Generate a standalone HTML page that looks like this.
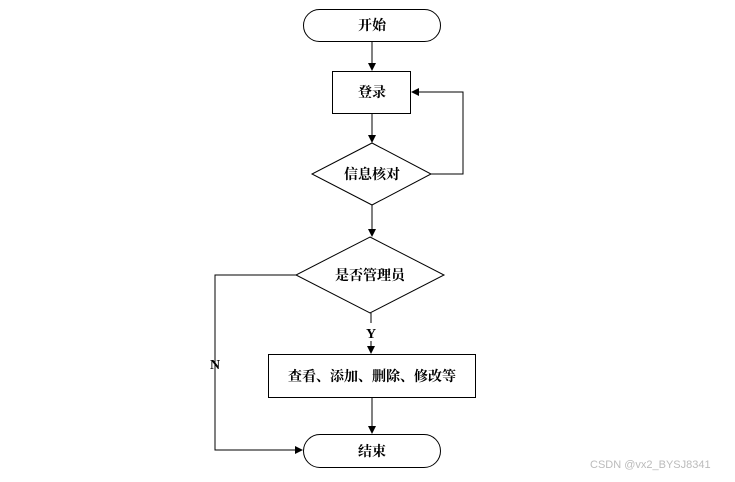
<!DOCTYPE html>
<html><head><meta charset="utf-8"><style>
html,body{margin:0;padding:0;background:#fff}
svg text{font-family:"Liberation Serif","Noto Serif CJK SC",serif;font-weight:bold;font-size:14px;fill:#000}
</style></head><body>
<svg width="735" height="477" viewBox="0 0 735 477" xmlns="http://www.w3.org/2000/svg">
<defs><marker id="a" markerWidth="8" markerHeight="8" refX="7" refY="4" orient="auto" markerUnits="userSpaceOnUse"><path d="M0,0 L8,4 L0,8 z" fill="#000"/></marker></defs>
<g fill="none" stroke="#000" stroke-width="1">
<rect x="303.5" y="9.5" width="137" height="32" rx="16"/>
<rect x="332.5" y="71.5" width="78" height="42"/>
<polygon points="372,143 431,174 372,205 312,174"/>
<polygon points="370,237 444,275 370,313 296,275"/>
<rect x="268.5" y="354.5" width="207" height="43"/>
<rect x="303.5" y="434.5" width="137" height="33" rx="16.5"/>
<line x1="372" y1="41" x2="372" y2="70" marker-end="url(#a)"/>
<line x1="372" y1="113" x2="372" y2="142" marker-end="url(#a)"/>
<polyline points="431,174 463,174 463,92 412,92" marker-end="url(#a)"/>
<line x1="372" y1="205" x2="372" y2="236" marker-end="url(#a)"/>
<line x1="371" y1="313" x2="371" y2="323"/>
<line x1="371" y1="341" x2="371" y2="353" marker-end="url(#a)"/>
<line x1="372" y1="397" x2="372" y2="433" marker-end="url(#a)"/>
<polyline points="296,275 215,275 215,450 302,450" marker-end="url(#a)"/>
</g>
<g text-anchor="middle">
<text x="372" y="30">开始</text>
<text x="372" y="97">登录</text>
<text x="372" y="179">信息核对</text>
<text x="370" y="280">是否管理员</text>
<text x="371" y="338">Y</text>
<text x="372" y="381">查看、添加、删除、修改等</text>
<text x="372" y="456">结束</text>
<text x="215" y="369">N</text>
</g>
<text x="590" y="468" style="font-family:'Liberation Sans',sans-serif;font-weight:normal;font-size:11px;fill:#bbb">CSDN @vx2_BYSJ8341</text>
</svg>
</body></html>
